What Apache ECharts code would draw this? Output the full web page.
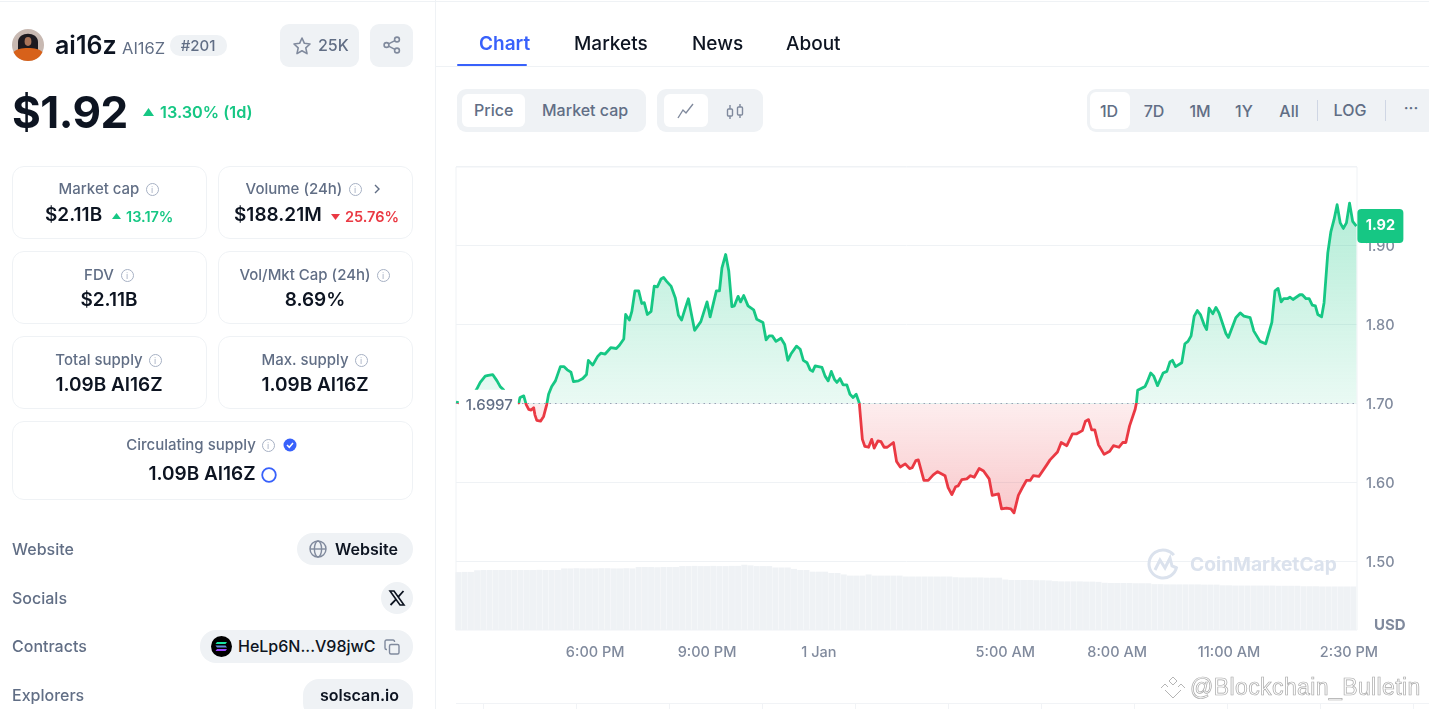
<!DOCTYPE html>
<html>
<head>
<meta charset="utf-8">
<title>ai16z</title>
<script src="https://cdn.jsdelivr.net/npm/echarts@6/dist/echarts.min.js"></script>
<style>
	html, body { margin: 0; padding: 0; background: #fff; overflow: hidden; width: 1429px; height: 709px; }
	body { position: relative; font-family: Inter, "Noto Sans", sans-serif; color: #0d1421; }
	#chart { position: absolute; left: 0; top: 0; width: 1429px; height: 709px; }
	.a { position: absolute; white-space: nowrap; }
	.c { position: absolute; white-space: nowrap; transform: translate(-50%, -50%); }
	.m { position: absolute; white-space: nowrap; transform: translateY(-50%); }
	.box { position: absolute; box-sizing: border-box; border: 1px solid #eff2f5; border-radius: 12px; }
	.grey { position: absolute; background: #eff2f5; }
	.white { position: absolute; background: #fff; border-radius: 6px; }
	.label { font-size: 15px; font-weight: 500; color: #616e85; }
	.value { font-size: 19px; font-weight: 600; }
	.row { font-size: 16px; font-weight: 500; color: #616e85; }
	.tab { font-size: 19px; font-weight: 500; }
	.ctl { font-size: 16px; font-weight: 500; color: #616e85; }
	.up { color: #16c784; font-weight: 600; }
	.down { color: #ea3943; font-weight: 600; }
	.info { position: absolute; width: 13px; height: 13px; box-sizing: border-box; border: 1px solid #a6b0c3; border-radius: 50%; color: #a6b0c3; font-size: 9px; line-height: 11px; text-align: center; }
	svg { position: absolute; overflow: visible; }
</style>
</head>
<body>
<div id="chart"></div>

<!-- page frame -->
<div class="a" style="left:0;top:1px;width:1429px;height:1px;background:#eff2f5"></div>
<div class="a" style="left:435px;top:0;width:1px;height:709px;background:#eff2f5"></div>
<div class="a" style="left:436px;top:66px;width:993px;height:1px;background:#eff2f5"></div>
<div class="a" style="left:456px;top:703px;width:973px;height:6px;background:repeating-linear-gradient(90deg,#f1f3f6 0,#f1f3f6 1px,transparent 1px,transparent 93px);background-position:27px 0;border-top:1px solid #f1f3f6"></div>

<!-- coin header -->
<svg style="left:12px;top:29px" width="32" height="32" viewBox="0 0 32 32">
	<circle cx="16" cy="16" r="16" fill="#c8b9b2"/>
	<path d="M6 26 V13 C6 2 26 2 26 13 V26 Z" fill="#1d1a20"/>
	<ellipse cx="16" cy="12.5" rx="3.4" ry="4.4" fill="#a8745a"/>
	<path d="M1.5 23 C6 17.5 26 17.5 30.5 23 C28 29 22 32 16 32 C10 32 4 29 1.5 23 Z" fill="#d7611a"/>
</svg>
<div class="m" style="left:55px;top:45px;font-size:25px;font-weight:600">ai16z</div>
<div class="m" style="left:122px;top:48px;font-size:16.5px;color:#616e85">AI16Z</div>
<div class="grey" style="left:170px;top:35px;width:57px;height:21px;border-radius:10px"></div>
<div class="c" style="left:198px;top:45px;font-size:15px;font-weight:500;color:#616e85">#201</div>
<div class="grey" style="left:280px;top:24px;width:79px;height:43px;border-radius:9px"></div>
<svg style="left:292px;top:36px" width="20" height="20" viewBox="0 0 20 20"><path d="M10 2 L12.4 7.3 L18 8 L13.8 11.9 L15 17.6 L10 14.7 L5 17.6 L6.2 11.9 L2 8 L7.6 7.3 Z" fill="none" stroke="#808a9d" stroke-width="1.6" stroke-linejoin="round"/></svg>
<div class="m" style="left:318px;top:45px;font-size:16px;font-weight:500;color:#616e85">25K</div>
<div class="grey" style="left:370px;top:24px;width:43px;height:43px;border-radius:9px"></div>
<svg style="left:383px;top:36px" width="18" height="18" viewBox="0 0 18 18"><g fill="none" stroke="#808a9d" stroke-width="1.6"><circle cx="14" cy="3.5" r="2.4"/><circle cx="3.5" cy="9" r="2.4"/><circle cx="14" cy="14.5" r="2.4"/><path d="M5.6 7.9 L11.9 4.6 M5.6 10.1 L11.9 13.4"/></g></svg>

<div class="m" style="left:12px;top:112px;font-size:44px;font-weight:700;letter-spacing:-0.5px">$1.92</div>
<svg style="left:143px;top:108px" width="11" height="8"><path d="M0 8 L5.5 0 L11 8 Z" fill="#16c784"/></svg>
<div class="m up" style="left:160px;top:112px;font-size:16.3px">13.30% (1d)</div>

<!-- stat cards -->
<div class="box" style="left:12px;top:166px;width:195px;height:73px"></div>
<div class="c label" style="left:99px;top:188px">Market cap</div><div class="info" style="left:145.5px;top:182.5px">i</div>
<div class="m value" style="left:45px;top:214px">$2.11B</div>
<svg style="left:112px;top:213px" width="9" height="6"><path d="M0 6 L4.5 0 L9 6 Z" fill="#16c784"/></svg>
<div class="m up" style="left:126px;top:216px;font-size:14.5px">13.17%</div>

<div class="box" style="left:218px;top:166px;width:195px;height:73px"></div>
<div class="c label" style="left:294px;top:188px">Volume (24h)</div><div class="info" style="left:348.5px;top:182.5px">i</div>
<svg style="left:373px;top:184px" width="8" height="10"><path d="M2 1 L6 5 L2 9" fill="none" stroke="#616e85" stroke-width="1.4"/></svg>
<div class="m value" style="left:234px;top:214px">$188.21M</div>
<svg style="left:331px;top:214px" width="9" height="6"><path d="M0 0 L4.5 6 L9 0 Z" fill="#ea3943"/></svg>
<div class="m down" style="left:345px;top:216px;font-size:14.5px">25.76%</div>

<div class="box" style="left:12px;top:251px;width:195px;height:73px"></div>
<div class="c label" style="left:99px;top:274px">FDV</div><div class="info" style="left:120.5px;top:268.5px">i</div>
<div class="c value" style="left:109px;top:299px">$2.11B</div>

<div class="box" style="left:218px;top:251px;width:195px;height:73px"></div>
<div class="c label" style="left:305px;top:274px">Vol/Mkt Cap (24h)</div><div class="info" style="left:376.5px;top:268.5px">i</div>
<div class="c value" style="left:315px;top:299px">8.69%</div>

<div class="box" style="left:12px;top:336px;width:195px;height:73px"></div>
<div class="c label" style="left:99px;top:359px">Total supply</div><div class="info" style="left:148.5px;top:353.5px">i</div>
<div class="c value" style="left:109px;top:384px">1.09B AI16Z</div>

<div class="box" style="left:218px;top:336px;width:195px;height:73px"></div>
<div class="c label" style="left:305px;top:359px">Max. supply</div><div class="info" style="left:354.5px;top:353.5px">i</div>
<div class="c value" style="left:315px;top:384px">1.09B AI16Z</div>

<div class="box" style="left:12px;top:421px;width:401px;height:79px"></div>
<div class="c label" style="left:191px;top:444px">Circulating supply</div><div class="info" style="left:261.5px;top:438.5px">i</div>
<svg style="left:283px;top:438px" width="14" height="14"><circle cx="7" cy="7" r="6.5" fill="#3861fb"/><path d="M4 7 L6.3 9.3 L10 5" fill="none" stroke="#fff" stroke-width="1.5"/></svg>
<div class="c value" style="left:202px;top:473px">1.09B AI16Z</div>
<svg style="left:261px;top:467px" width="16" height="16"><circle cx="8" cy="8" r="6.8" fill="none" stroke="#3861fb" stroke-width="1.8"/></svg>

<!-- links -->
<div class="m row" style="left:12px;top:549px">Website</div>
<div class="grey" style="left:297px;top:533px;width:116px;height:32px;border-radius:16px"></div>
<svg style="left:309px;top:540px" width="18" height="18" viewBox="0 0 18 18"><g fill="none" stroke="#808a9d" stroke-width="1.4"><circle cx="9" cy="9" r="8"/><ellipse cx="9" cy="9" rx="3.6" ry="8"/><path d="M1 9 H17"/></g></svg>
<div class="m" style="left:335px;top:549px;font-size:16px;font-weight:600">Website</div>

<div class="m row" style="left:12px;top:598px">Socials</div>
<div class="grey" style="left:381px;top:582px;width:32px;height:32px;border-radius:50%"></div>
<svg style="left:389px;top:590px" width="16" height="16" viewBox="0 0 16 16"><path d="M1 1 L5 1 L15 15 L11 15 Z" fill="none" stroke="#0d1421" stroke-width="1.6"/><path d="M14.5 1 L9 7.2 M7 9.4 L1.5 15" stroke="#0d1421" stroke-width="1.8"/></svg>

<div class="m row" style="left:12px;top:646px">Contracts</div>
<div class="grey" style="left:200px;top:630px;width:213px;height:33px;border-radius:16px"></div>
<svg style="left:211px;top:636px" width="21" height="21" viewBox="0 0 21 21"><circle cx="10.5" cy="10.5" r="10.5" fill="#000"/><path d="M6 6 H16 L14.5 8 H4.5 Z" fill="#19e6a4"/><path d="M4.5 9.5 H14.5 L16 11.5 H6 Z" fill="#5f8fd8"/><path d="M6 13 H16 L14.5 15 H4.5 Z" fill="#9945ff"/></svg>
<div class="m" style="left:238px;top:646px;font-size:16px;font-weight:500">HeLp6N...V98jwC</div>
<svg style="left:384px;top:639px" width="16" height="16" viewBox="0 0 16 16"><g fill="none" stroke="#808a9d" stroke-width="1.4"><rect x="5.5" y="5.5" width="9.5" height="9.5" rx="1.5"/><path d="M10.5 3 V2.5 C10.5 1.6 10 1 9 1 H2.5 C1.6 1 1 1.6 1 2.5 V9 C1 10 1.6 10.5 2.5 10.5 H3"/></g></svg>

<div class="m row" style="left:12px;top:695px">Explorers</div>
<div class="grey" style="left:303px;top:679px;width:110px;height:40px;border-radius:16px"></div>
<div class="m" style="left:320px;top:695px;font-size:16px;font-weight:600">solscan.io</div>

<!-- tabs -->
<div class="m tab" style="left:479px;top:43px;color:#3861fb;font-weight:600">Chart</div>
<div class="m tab" style="left:574px;top:43px">Markets</div>
<div class="m tab" style="left:692px;top:43px">News</div>
<div class="m tab" style="left:786px;top:43px">About</div>
<div class="a" style="left:457px;top:64px;width:70px;height:2px;background:#3861fb;border-radius:1px"></div>

<!-- chart controls -->
<div class="grey" style="left:457px;top:89px;width:189px;height:43px;border-radius:9px"></div>
<div class="white" style="left:462px;top:94px;width:63px;height:33px"></div>
<div class="m ctl" style="left:474px;top:110px">Price</div>
<div class="m ctl" style="left:542px;top:110px">Market cap</div>
<div class="grey" style="left:657px;top:89px;width:106px;height:43px;border-radius:9px"></div>
<div class="white" style="left:664px;top:94px;width:44px;height:33px"></div>
<svg style="left:677px;top:103px" width="17" height="16"><path d="M1 15 L6 7 L9 10 L16 1" fill="none" stroke="#808a9d" stroke-width="1.4"/></svg>
<svg style="left:726px;top:103px" width="18" height="17"><g fill="none" stroke="#808a9d" stroke-width="1.4"><rect x="1.5" y="6" width="5" height="7" rx="1"/><rect x="11.5" y="4" width="5" height="8" rx="1"/><path d="M4 2 V6 M4 13 V16 M14 1 V4 M14 12 V15"/></g></svg>

<div class="grey" style="left:1087px;top:89px;width:350px;height:43px;border-radius:9px"></div>
<div class="white" style="left:1090px;top:92px;width:40px;height:37px"></div>
<div class="c ctl" style="left:1109px;top:111px">1D</div>
<div class="c ctl" style="left:1154px;top:111px">7D</div>
<div class="c ctl" style="left:1200px;top:111px">1M</div>
<div class="c ctl" style="left:1244px;top:111px">1Y</div>
<div class="c ctl" style="left:1289px;top:111px">All</div>
<div class="a" style="left:1317px;top:100px;width:1px;height:21px;background:#cfd6e4"></div>
<div class="c ctl" style="left:1350px;top:110px">LOG</div>
<div class="a" style="left:1385px;top:100px;width:1px;height:21px;background:#cfd6e4"></div>
<div class="c ctl" style="left:1411px;top:108px">···</div>

<!-- reposter mark on top of the screenshot -->
<svg style="left:1160px;top:676px" width="26" height="24" viewBox="0 0 26 24"><g fill="none" stroke="#b5b5b5" stroke-width="1"><path d="M13 1 L17 5 L13 9 L9 5 Z"/><path d="M1 12 L5 8 L8 11 M25 12 L21 8 L18 11"/><path d="M5 14 L13 22 L21 14"/></g></svg>
<div class="m" style="left:1190px;top:687px;font-size:23px;font-weight:300;color:#fff;-webkit-text-stroke:0.7px #a8a8a8;letter-spacing:0.4px;font-family:'Liberation Sans',sans-serif">@Blockchain_Bulletin</div>

<script>
// minutes counted from 31 Dec 14:00
const priceMinutes = [16, 23, 31, 39, 49, 55, 63, 68, 71, 75, 82, 87, 92, 98, 106, 117, 119, 125, 129, 133, 137, 141, 143, 146, 152, 157, 162, 165, 170, 176, 184, 190, 195, 201, 205, 213, 220, 226, 229, 236, 244, 249, 256, 265, 274, 279, 286, 289, 295, 299, 304, 310, 315, 319, 324, 330, 335, 340, 346, 350, 355, 362, 369, 374, 379, 385, 390, 400, 410, 420, 425, 435, 440, 444, 450, 455, 460, 464, 470, 474, 479, 486, 495, 500, 510, 515, 520, 525, 531, 539, 545, 550, 555, 564, 570, 575, 581, 586, 590, 594, 605, 610, 615, 620, 625, 629, 634, 639, 645, 650, 655, 660, 665, 670, 674, 680, 685, 689, 695, 700, 705, 710, 720, 725, 731, 739, 746, 750, 756, 760, 769, 776, 784, 791, 803, 808, 814, 820, 824, 830, 838, 844, 850, 858, 865, 874, 879, 889, 894, 902, 909, 914, 921, 929, 934, 940, 945, 954, 967, 972, 984, 990, 993, 999, 1008, 1015, 1024, 1029, 1034, 1039, 1044, 1050, 1059, 1068, 1074, 1083, 1089, 1094, 1100, 1109, 1111, 1113, 1125, 1128, 1134, 1139, 1145, 1154, 1160, 1165, 1169, 1174, 1184, 1189, 1194, 1199, 1204, 1209, 1214, 1220, 1224, 1228, 1234, 1239, 1244, 1255, 1259, 1271, 1278, 1284, 1294, 1300, 1310, 1319, 1329, 1334, 1339, 1344, 1348, 1354, 1358, 1363, 1374, 1378, 1384, 1389, 1394, 1399, 1403, 1409, 1413, 1419, 1424, 1429, 1434, 1439, 1444, 1449, 1454, 1459, 1465]
const prices = [1.701, 1.700, 1.702, 1.706, 1.717, 1.726, 1.734, 1.735, 1.734, 1.736, 1.728, 1.721, 1.717, 1.709, 1.702, 1.700, 1.707, 1.709, 1.698, 1.692, 1.691, 1.694, 1.685, 1.678, 1.677, 1.683, 1.698, 1.711, 1.721, 1.728, 1.746, 1.746, 1.742, 1.739, 1.727, 1.728, 1.731, 1.736, 1.754, 1.748, 1.759, 1.763, 1.762, 1.770, 1.769, 1.773, 1.781, 1.812, 1.805, 1.816, 1.842, 1.842, 1.826, 1.827, 1.812, 1.816, 1.848, 1.847, 1.857, 1.859, 1.854, 1.848, 1.833, 1.811, 1.805, 1.820, 1.832, 1.792, 1.803, 1.828, 1.809, 1.842, 1.842, 1.871, 1.888, 1.867, 1.822, 1.823, 1.835, 1.828, 1.836, 1.823, 1.818, 1.806, 1.802, 1.780, 1.785, 1.785, 1.778, 1.782, 1.774, 1.754, 1.762, 1.772, 1.768, 1.754, 1.751, 1.742, 1.740, 1.747, 1.745, 1.734, 1.728, 1.740, 1.730, 1.726, 1.731, 1.723, 1.723, 1.711, 1.707, 1.711, 1.700, 1.654, 1.645, 1.644, 1.654, 1.643, 1.652, 1.651, 1.644, 1.644, 1.650, 1.626, 1.619, 1.623, 1.617, 1.618, 1.627, 1.628, 1.602, 1.602, 1.609, 1.613, 1.608, 1.593, 1.584, 1.594, 1.595, 1.603, 1.604, 1.608, 1.606, 1.617, 1.614, 1.604, 1.583, 1.585, 1.566, 1.567, 1.566, 1.561, 1.583, 1.595, 1.602, 1.602, 1.608, 1.607, 1.622, 1.628, 1.638, 1.650, 1.651, 1.646, 1.661, 1.661, 1.665, 1.677, 1.679, 1.666, 1.666, 1.647, 1.635, 1.639, 1.646, 1.644, 1.650, 1.650, 1.671, 1.692, 1.700, 1.716, 1.721, 1.726, 1.738, 1.734, 1.722, 1.738, 1.740, 1.752, 1.754, 1.746, 1.751, 1.775, 1.778, 1.785, 1.810, 1.817, 1.812, 1.799, 1.793, 1.820, 1.813, 1.821, 1.814, 1.788, 1.783, 1.808, 1.814, 1.810, 1.808, 1.791, 1.778, 1.775, 1.802, 1.842, 1.845, 1.828, 1.832, 1.832, 1.834, 1.831, 1.837, 1.837, 1.832, 1.832, 1.824, 1.823, 1.812, 1.809, 1.827, 1.890, 1.917, 1.932, 1.951, 1.928, 1.921, 1.928, 1.953, 1.930, 1.924]

// rolling 24h volume in millions, one bar per 10 minutes from minute 20
const volumes = [250, 251, 251, 258, 259, 259, 259, 259, 259, 259, 259, 259, 259, 260, 259, 259, 259, 266, 266, 267, 266, 266, 266, 267, 267, 266, 266, 267, 266, 272, 272, 272, 271, 272, 272, 272, 276, 276, 277, 276, 276, 277, 276, 276, 277, 277, 282, 279, 276, 276, 276, 270, 270, 270, 264, 259, 259, 252, 252, 252, 246, 246, 240, 235, 235, 235, 240, 235, 235, 235, 235, 235, 231, 231, 231, 231, 231, 231, 231, 231, 228, 227, 227, 227, 227, 226, 226, 226, 218, 216, 216, 216, 216, 215, 215, 214, 211, 210, 210, 210, 210, 209, 209, 208, 204, 203, 203, 203, 203, 202, 202, 202, 198, 198, 197, 197, 197, 197, 197, 197, 196, 196, 196, 193, 193, 192, 192, 192, 192, 192, 192, 192, 191, 191, 191, 191, 189, 189, 189, 188, 188, 188, 188, 188, 188]

const timeTicks = [240, 420, 600, 900, 1080, 1260, 1453]
const timeLabels = ['6:00 PM', '9:00 PM', '1 Jan', '5:00 AM', '8:00 AM', '11:00 AM', '2:30 PM']

const openPrice = 1.6997
const lastPrice = 1.92

const GREEN = '#16c784'
const RED = '#ea3943'
const AXIS_TEXT = '#808a9d'
const GRID_LINE = '#eff2f5'
// 46 x 34 box with 4px corners
const BADGE = 'path://M4 0H42A4 4 0 0 1 46 4V30A4 4 0 0 1 42 34H4A4 4 0 0 1 0 30V4A4 4 0 0 1 4 0Z'

;(function () {
	let myChart = echarts.init(document.getElementById('chart'))
	const volumeData = volumes.map((v, i) => [20 + i * 10, v])
	const priceData = priceMinutes.map((m, i) => [m, prices[i]])

	const option = {
		animation: false,
		textStyle: { fontFamily: 'Inter' },
		grid: [
			// price: y runs 1.4 - 2.0, the lower part sits under the volume strip
			{ left: 456, width: 901, top: 166, height: 474 },
			// volume, also draws the frame of the plot
			{ left: 456, width: 901, top: 167, height: 463, show: true, borderColor: GRID_LINE, borderWidth: 1 }
		],
		xAxis: [
			{ gridIndex: 0, type: 'value', min: 16, max: 1466, show: false },
			{
				gridIndex: 1,
				type: 'value',
				min: 16,
				max: 1466,
				splitLine: { show: false },
				axisLine: { show: false },
				axisTick: { show: false },
				axisLabel: {
					customValues: timeTicks,
					formatter: function (value) {
						return timeLabels[timeTicks.indexOf(value)]
					},
					color: AXIS_TEXT,
					fontSize: 14.5,
					fontWeight: 500,
					margin: 15
				}
			}
		],
		yAxis: [
			{
				gridIndex: 0,
				type: 'value',
				position: 'right',
				min: 1.4,
				max: 2,
				interval: 0.1,
				axisLine: { show: false },
				axisTick: { show: false },
				axisLabel: {
					showMinLabel: false,
					showMaxLabel: false,
					formatter: function (value) {
						return value.toFixed(2)
					},
					color: AXIS_TEXT,
					fontSize: 14.5,
					fontWeight: 500,
					margin: 9,
					// sits about 2px under the gridline
					verticalAlign: 'top',
					lineHeight: 4
				},
				splitLine: { showMinLine: false, lineStyle: { color: GRID_LINE, width: 1 } }
			},
			{ gridIndex: 1, type: 'value', min: 0, max: 2000, show: false }
		],
		// line turns red under the opening price
		visualMap: {
			show: false,
			seriesIndex: 1,
			dimension: 1,
			pieces: [
				{ min: 1.4, max: openPrice, color: RED },
				{ min: openPrice, max: 2, color: GREEN }
			]
		},
		graphic: [
			{ type: 'text', left: 1374, top: 618, z: 10, style: { text: 'USD', fill: AXIS_TEXT, font: '700 15px Inter' } },
			{ type: 'text', left: 1190, top: 556, z: 1, style: { text: 'CoinMarketCap', fill: '#dbe2ed', font: '700 19.2px Inter' } },
			{ type: 'arc', z: 1, shape: { cx: 1163, cy: 564, r: 14, startAngle: 0.2, endAngle: 5.6 }, style: { stroke: '#dbe2ed', lineWidth: 3, fill: 'none' } },
			{ type: 'polyline', z: 1, shape: { points: [[1155, 570], [1160, 560], [1165, 568], [1170, 558], [1172, 566], [1177, 568]] }, style: { stroke: '#dbe2ed', lineWidth: 3, fill: 'none' } }
		],
		series: [
			{
				name: 'Volume',
				type: 'bar',
				xAxisIndex: 1,
				yAxisIndex: 1,
				barWidth: 6,
				itemStyle: { color: '#eff2f5' },
				silent: true,
				data: volumeData
			},
			{
				name: 'Price',
				type: 'line',
				xAxisIndex: 0,
				yAxisIndex: 0,
				showSymbol: false,
				lineStyle: { width: 2.8, join: 'round' },
				areaStyle: {
					origin: openPrice,
					opacity: 1,
					// green fades towards the opening price, red grows away from it
					color: {
						type: 'linear',
						global: true,
						x: 0, y: 0, x2: 0, y2: 709,
						colorStops: [
							{ offset: 0, color: 'rgba(22,199,132,0.32)' },
							{ offset: 204 / 709, color: 'rgba(22,199,132,0.32)' },
							{ offset: 404 / 709, color: 'rgba(22,199,132,0.09)' },
							{ offset: 404 / 709, color: 'rgba(234,57,67,0.09)' },
							{ offset: 514 / 709, color: 'rgba(234,57,67,0.28)' },
							{ offset: 1, color: 'rgba(234,57,67,0.28)' }
						]
					}
				},
				markLine: {
					silent: true,
					symbol: 'none',
					label: { show: false },
					lineStyle: { color: '#98a2b5', type: [1.5, 4], width: 1 },
					data: [{ yAxis: openPrice }]
				},
				markPoint: {
					silent: true,
					data: [
						{
							coord: [68, openPrice],
							symbol: 'roundRect',
							symbolSize: [59, 27],
							itemStyle: { color: '#fff' },
							label: { show: true, offset: [1, 2], formatter: String(openPrice), color: '#616e85', fontSize: 15, fontWeight: 500 }
						},
						{
							coord: [priceMinutes[priceMinutes.length - 1], prices[prices.length - 1]],
							symbol: BADGE,
							symbolSize: [46, 34],
							symbolKeepAspect: false,
							symbolOffset: [24, 0],
							itemStyle: { color: GREEN },
							label: { show: true, formatter: lastPrice.toFixed(2), color: '#fff', fontSize: 14.5, fontWeight: 700 }
						}
					]
				},
				data: priceData
			}
		]
	}
	myChart.setOption(option)
	window.addEventListener('resize', function () {
		myChart.resize()
	})
})()
</script>
</body>
</html>
